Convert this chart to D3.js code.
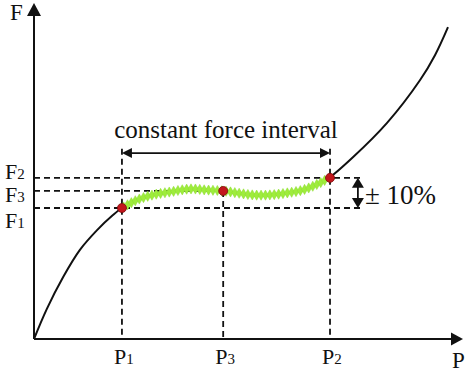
<!DOCTYPE html>
<html><head><meta charset="utf-8">
<script src="https://cdn.jsdelivr.net/npm/d3@7"></script>
<style>body{margin:0;background:#fff}svg{display:block}text{font-family:"Liberation Serif","Times New Roman",serif;fill:#111}</style>
</head><body><svg id="c" width="474" height="372"></svg>
<script>
// Data (arbitrary units)
const curveP = [0, 0.30, 0.68, 1.07, 1.47, 1.84, 2.05, 2.40, 2.77, 3.17, 3.64, 3.99, 4.41, 4.73, 5.10, 5.50, 5.90, 6.27, 6.62, 6.88, 7.44, 8.23, 9.00, 9.35, 9.65];
const curveF = [0, 0.90, 1.85, 2.66, 3.25, 3.70, 3.91, 4.15, 4.30, 4.39, 4.48, 4.45, 4.42, 4.36, 4.30, 4.30, 4.36, 4.45, 4.63, 4.81, 5.43, 6.45, 7.73, 8.48, 9.31];
const keyLabels = ["1", "3", "2"];
const keyP = [2.05, 4.41, 6.90];
const keyF = [3.91, 4.42, 4.81];
const intervalLabel = "constant force interval";
const tolLabel = "\u00B1 10%";

const svg = d3.select("#c");
const x = d3.scaleLinear().domain([0, 10]).range([34, 463]);
const y = d3.scaleLinear().domain([0, 10]).range([339, 4]);
const pts = curveP.map((p, i) => [p, curveF[i]]);
const line = d3.line().x(d => x(d[0])).y(d => y(d[1])).curve(d3.curveCatmullRom.alpha(0.5));

const dash = "6,4";
function dline(x1, y1, x2, y2) {
  svg.append("line").attr("x1", x1).attr("x2", x2).attr("y1", y1).attr("y2", y2)
    .attr("stroke", "#111").attr("stroke-width", 1.8).attr("stroke-dasharray", dash);
}
const fRightEnd = 7.62;
dline(x(0), y(keyF[0]), x(fRightEnd), y(keyF[0]));
dline(x(0), y(keyF[2]), x(fRightEnd), y(keyF[2]));
dline(x(0), y(keyF[1]), x(keyP[1]), y(keyF[1]));
const topF = 5.68;
dline(x(keyP[0]), y(topF), x(keyP[0]), y(0));
dline(x(keyP[2]), y(topF), x(keyP[2]), y(0));
dline(x(keyP[1]), y(keyF[1]), x(keyP[1]), y(0));

// axes
svg.append("line").attr("x1", x(0)).attr("x2", x(0)).attr("y1", y(0)).attr("y2", y(9.7)).attr("stroke", "#111").attr("stroke-width", 2);
svg.append("line").attr("x1", x(0)).attr("x2", x(9.8)).attr("y1", y(0)).attr("y2", y(0)).attr("stroke", "#111").attr("stroke-width", 2);
svg.append("path").attr("d", `M${x(0)},${y(10)-1} L${x(0)-7},${y(10)+12} L${x(0)+7},${y(10)+12}Z`).attr("fill", "#111");
svg.append("path").attr("d", `M${x(10)},${y(0)} L${x(10)-12},${y(0)-6.5} L${x(10)-12},${y(0)+6.5}Z`).attr("fill", "#111");

// black curve
svg.append("path").attr("d", line(pts)).attr("fill", "none").attr("stroke", "#111").attr("stroke-width", 2);

// green constant-force segment
const seg = pts.filter(d => d[0] >= keyP[0] - 1e-9 && d[0] <= 6.88 + 1e-9);
const gp = svg.append("path").attr("d", line(seg)).attr("fill", "none").attr("stroke", "#a8ee55").attr("stroke-width", 3);
const len = gp.node().getTotalLength();
const sym = d3.symbol().type(d3.symbolDiamond).size(30);
for (let l = 2; l < len - 1; l += 4.4) {
  const p = gp.node().getPointAtLength(l);
  svg.append("path").attr("d", sym()).attr("transform", `translate(${p.x},${p.y})`)
    .attr("fill", "#9eec3c").attr("stroke", "#8ddc30").attr("stroke-width", 0.5);
}

// key points
keyP.forEach((p, i) => {
  svg.append("circle").attr("cx", x(p)).attr("cy", y(keyF[i])).attr("r", 4.5)
    .attr("fill", "#c3161c").attr("stroke", "#7d0b0b").attr("stroke-width", 0.8);
});

function arrowHead(xt, yt, dir) {
  const L = 10, W = 5;
  let d;
  if (dir === 'l') d = `M${xt},${yt} L${xt+L},${yt-W} L${xt+L},${yt+W}Z`;
  if (dir === 'r') d = `M${xt},${yt} L${xt-L},${yt-W} L${xt-L},${yt+W}Z`;
  if (dir === 'u') d = `M${xt},${yt} L${xt-6},${yt+10} L${xt+6},${yt+10}Z`;
  if (dir === 'd') d = `M${xt},${yt} L${xt-6},${yt-10} L${xt+6},${yt-10}Z`;
  svg.append("path").attr("d", d).attr("fill", "#111");
}
const ay = y(5.55);
svg.append("line").attr("x1", x(keyP[0]) + 4).attr("x2", x(keyP[2]) - 4).attr("y1", ay).attr("y2", ay).attr("stroke", "#111").attr("stroke-width", 1.8);
arrowHead(x(keyP[0]), ay, 'l');
arrowHead(x(keyP[2]), ay, 'r');
svg.append("text").attr("x", (x(keyP[0]) + x(keyP[2])) / 2).attr("y", 138).attr("text-anchor", "middle")
  .attr("font-size", 25).text(intervalLabel);

const tx = x(7.55);
svg.append("line").attr("x1", tx).attr("x2", tx).attr("y1", y(keyF[2]) + 4).attr("y2", y(keyF[0]) - 4).attr("stroke", "#111").attr("stroke-width", 1.8);
arrowHead(tx, y(keyF[2]), 'u');
arrowHead(tx, y(keyF[0]), 'd');
svg.append("text").attr("x", 365).attr("y", 204).attr("font-size", 27).text(tolLabel);

// axis labels
svg.append("text").attr("x", 10).attr("y", 20).attr("font-size", 23).text("F");
svg.append("text").attr("x", 452).attr("y", 368).attr("font-size", 23).text("P");

// tick labels
keyP.forEach((p, i) => {
  const t = svg.append("text").attr("x", x(p) - 8).attr("y", 364).attr("font-size", 22);
  t.append("tspan").text("P");
  t.append("tspan").attr("font-size", 15).text(keyLabels[i]);
});
const fOrder = [[2, "2", 179], [1, "3", 202], [0, "1", 228]];
fOrder.forEach(([i, lab, by]) => {
  const t = svg.append("text").attr("x", 5).attr("y", by).attr("font-size", 22);
  t.append("tspan").text("F");
  t.append("tspan").attr("font-size", 15).text(lab);
});
</script></body></html>
